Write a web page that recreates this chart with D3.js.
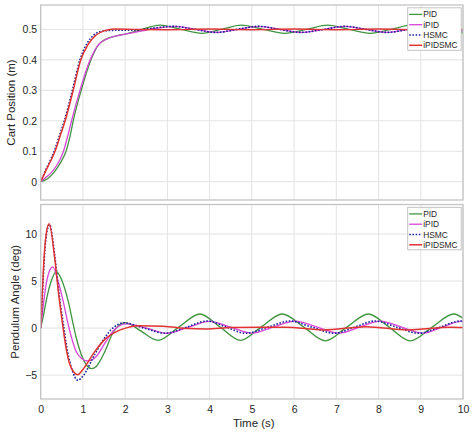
<!DOCTYPE html>
<html>
<head>
<meta charset="utf-8">
<script src="https://cdn.jsdelivr.net/npm/d3@7"></script>
<style>
  html, body { margin: 0; padding: 0; background: #fff; }
  svg { display: block; font-family: "Liberation Sans", Arial, sans-serif; }
  .grid line { stroke: #e3e3e3; stroke-width: 1; }
  .tick text { fill: #262626; }
</style>
</head>
<body>
<div id="chart"></div>
<script>
  // ---- data: [time (s), value] ----
  const timeTicks = [0, 1, 2, 3, 4, 5, 6, 7, 8, 9, 10];
  const cartTicks = [0, 0.1, 0.2, 0.3, 0.4, 0.5];
  const angleTicks = [-5, 0, 5, 10];
  const seriesNames = ["PID", "iPID", "HSMC", "iPIDSMC"];

  const cartPID = [[0,0],[0.1,0.005],[0.2,0.014],[0.3,0.028],[0.4,0.047],[0.5,0.07],[0.6,0.1],[0.7,0.153],[0.77,0.2],[0.96,0.3],[1.19,0.4],[1.37,0.45],[1.55,0.468],[1.8,0.479],[2.05,0.486],[2.3,0.496],[2.83,0.514],[3.32,0.5],[3.82,0.487],[4.28,0.5],[4.75,0.514],[5.27,0.5],[5.78,0.487],[6.3,0.5],[6.8,0.514],[7.3,0.5],[7.8,0.487],[8.3,0.5],[8.78,0.514],[9.3,0.5],[9.8,0.487],[10,0.489]];
  const cartIPID = [[0,0],[0.14,0.016],[0.25,0.03],[0.38,0.054],[0.46,0.074],[0.54,0.1],[0.63,0.145],[0.73,0.2],[0.93,0.3],[1.17,0.4],[1.37,0.45],[1.55,0.467],[1.8,0.479],[2.1,0.487],[2.4,0.495],[2.7,0.503],[3.17,0.51],[3.67,0.5],[4.17,0.49],[4.67,0.5],[5.17,0.51],[5.67,0.5],[6.17,0.49],[6.7,0.5],[7.2,0.51],[7.7,0.5],[8.2,0.49],[8.7,0.5],[9.2,0.51],[9.7,0.5],[10,0.494]];
  const cartHSMC = [[0,0],[0.1,0.033],[0.2,0.062],[0.32,0.1],[0.44,0.15],[0.56,0.2],[0.75,0.3],[0.93,0.4],[1.1,0.455],[1.25,0.48],[1.45,0.494],[1.8,0.497],[2.2,0.497],[2.6,0.503],[3.15,0.51],[3.65,0.5],[4.15,0.49],[4.65,0.5],[5.15,0.51],[5.65,0.5],[6.15,0.49],[6.7,0.5],[7.2,0.51],[7.7,0.5],[8.2,0.49],[8.7,0.5],[9.2,0.51],[9.7,0.5],[10,0.493]];
  const cartIPIDSMC = [[0,0],[0.1,0.03],[0.2,0.058],[0.34,0.1],[0.46,0.15],[0.58,0.2],[0.77,0.3],[0.95,0.4],[1.12,0.45],[1.3,0.48],[1.5,0.495],[1.75,0.501],[2.2,0.5],[3,0.499],[4,0.501],[5,0.499],[6,0.501],[7,0.499],[8,0.501],[9,0.499],[10,0.5]];

  const anglePID = [[0,0],[0.055,1.1],[0.13,2.9],[0.25,5.0],[0.37,6.0],[0.49,5.2],[0.65,2.9],[0.77,0.4],[0.84,-1.0],[0.96,-2.8],[1.08,-3.9],[1.2,-4.3],[1.32,-4.05],[1.52,-2.5],[1.71,-0.5],[1.83,0.2],[1.99,0.57],[2.1,0.45],[2.37,-0.3],[2.78,-1.3],[3.27,0.1],[3.77,1.5],[4.25,0.1],[4.73,-1.3],[5.22,0.1],[5.72,1.5],[6.23,0.1],[6.74,-1.35],[7.25,0.1],[7.76,1.5],[8.25,0.1],[8.75,-1.35],[9.27,0.1],[9.78,1.5],[10,1.05]];
  const angleIPID = [[0,0],[0.055,2.2],[0.13,4.7],[0.21,6.1],[0.29,6.5],[0.41,5.0],[0.53,2.9],[0.65,0.4],[0.73,-1.0],[0.84,-2.5],[0.96,-3.2],[1.12,-3.5],[1.32,-3.0],[1.52,-1.6],[1.75,-0.15],[2.03,0.45],[2.5,0],[3.0,-0.55],[3.5,0.1],[4.0,0.72],[4.5,0.1],[5.0,-0.53],[5.5,0.1],[6.03,0.75],[6.55,0.1],[7.07,-0.53],[7.55,0.1],[8.04,0.75],[8.55,0.1],[9.06,-0.53],[9.5,0.1],[9.95,0.72],[10,0.7]];
  const angleHSMC = [[0,0],[0.03,2.5],[0.08,7.0],[0.13,9.8],[0.21,11.0],[0.33,7.8],[0.43,3.8],[0.55,0],[0.64,-2.6],[0.74,-4.4],[0.88,-5.55],[1.0,-5.1],[1.28,-2.8],[1.52,-1.0],[1.67,-0.15],[1.87,0.46],[1.95,0.57],[2.45,0],[2.95,-0.55],[3.45,0.1],[3.95,0.75],[4.4,0.1],[4.85,-0.55],[5.38,0.1],[5.9,0.75],[6.42,0.1],[6.95,-0.55],[7.43,0.1],[7.92,0.75],[8.43,0.1],[8.95,-0.55],[9.45,0.1],[9.95,0.75],[10,0.74]];
  const angleIPIDSMC = [[0,0],[0.03,2.9],[0.08,7.5],[0.13,10.0],[0.2,11.1],[0.33,7.5],[0.42,3.8],[0.53,0],[0.62,-2.6],[0.72,-4.2],[0.88,-4.95],[1.0,-4.4],[1.28,-2.5],[1.52,-1.2],[1.83,-0.3],[2.05,0.05],[2.3,0.25],[2.9,0.2],[3.5,-0.05],[3.9,-0.1],[4.5,0.05],[5.2,0.1],[5.8,0.1],[6.7,-0.2],[7.7,0.15],[8.7,-0.2],[9.7,0.1],[10,0.05]];

  const cartSeries = [cartPID, cartIPID, cartHSMC, cartIPIDSMC];
  const angleSeries = [anglePID, angleIPID, angleHSMC, angleIPIDSMC];

  const COLORS = ["#3f943f", "#d945d9", "#1c2a9c", "#e23232"];
  const DASH = [null, null, "1.6,1.6", null];
  const WIDTH = [1.3, 1.3, 1.6, 1.5];

  /* ---------------- layout ---------------- */
  const W = 474, H = 435;
  const L = 40.7, R = 463;
  const svg = d3.select("#chart").append("svg").attr("width", W).attr("height", H);

  const x = d3.scaleLinear().domain([0, 10]).range([L, R]);

  function panel(top, bottom, domain, ticks, fmt, data, ylabel, labelX, showX) {
    const y = d3.scaleLinear().domain(domain).range([bottom, top]);
    const g = svg.append("g");

    // grid
    g.append("g").attr("class", "grid")
      .selectAll("line.v").data(timeTicks).join("line")
      .attr("x1", d => x(d)).attr("x2", d => x(d)).attr("y1", top).attr("y2", bottom);
    g.append("g").attr("class", "grid")
      .selectAll("line.h").data(ticks).join("line")
      .attr("x1", L).attr("x2", R).attr("y1", d => y(d)).attr("y2", d => y(d));

    // y ticks
    g.append("g")
      .attr("transform", `translate(${L},0)`)
      .call(d3.axisLeft(y).tickValues(ticks).tickFormat(fmt).tickSize(0).tickPadding(3.5))
      .call(a => a.select(".domain").remove())
      .selectAll("text").style("font-size", "10.5px");

    if (showX) {
      g.append("g")
        .attr("transform", `translate(0,${bottom})`)
        .call(d3.axisBottom(x).tickValues(timeTicks).tickFormat(d3.format("d")).tickSize(0).tickPadding(7))
        .call(a => a.select(".domain").remove())
        .selectAll("text").style("font-size", "10.5px");
    }

    // curves
    const line = d3.line().x(d => x(d[0])).y(d => y(d[1])).curve(d3.curveMonotoneX);
    const clipId = "clip" + Math.round(top);
    svg.append("clipPath").attr("id", clipId)
      .append("rect").attr("x", L).attr("y", top).attr("width", R - L).attr("height", bottom - top);
    g.append("g").attr("clip-path", `url(#${clipId})`)
      .selectAll("path").data(data).join("path")
      .attr("d", line)
      .attr("fill", "none")
      .attr("stroke", (d, i) => COLORS[i])
      .attr("stroke-width", (d, i) => WIDTH[i])
      .attr("stroke-dasharray", (d, i) => DASH[i]);

    // frame
    g.append("rect")
      .attr("x", L).attr("y", top).attr("width", R - L).attr("height", bottom - top)
      .attr("fill", "none").attr("stroke", "#c4c4c4").attr("stroke-width", 1.3);

    // y label
    g.append("text")
      .attr("transform", `translate(${labelX},${(top + bottom) / 2}) rotate(-90)`)
      .attr("text-anchor", "middle")
      .style("font-size", "11.5px").attr("fill", "#262626")
      .text(ylabel);

    // legend
    const lw = 53.5, lh = 42.5;
    const lx = R - 1.8 - lw, ly = top + 2.8;
    const lg = g.append("g").attr("transform", `translate(${lx},${ly})`);
    lg.append("rect").attr("width", lw).attr("height", lh)
      .attr("fill", "#fff").attr("stroke", "#bdbdbd").attr("stroke-width", 0.9);
    const item = lg.selectAll("g.item").data(seriesNames).join("g")
      .attr("transform", (d, i) => `translate(0,${6.6 + i * 10.3})`);
    item.append("line")
      .attr("x1", 1.5).attr("x2", 14.5).attr("y1", 0).attr("y2", 0)
      .attr("stroke", (d, i) => COLORS[i])
      .attr("stroke-width", (d, i) => WIDTH[i])
      .attr("stroke-dasharray", (d, i) => DASH[i]);
    item.append("text")
      .attr("x", 15.5).attr("y", 3)
      .style("font-size", "8.4px").attr("fill", "#262626")
      .text(d => d);
  }

  panel(5, 200, [-0.06, 0.58], cartTicks, d => d === 0 ? "0" : d3.format(".1f")(d),
        cartSeries, "Cart Position (m)", 14.5, false);
  panel(204.5, 399, [-7.54, 13.14], angleTicks, d3.format("d"),
        angleSeries, "Pendulum Angle (deg)", 18.5, true);

  svg.append("text")
    .attr("x", 253.8).attr("y", 427)
    .attr("text-anchor", "middle")
    .style("font-size", "11.5px").attr("fill", "#262626")
    .text("Time (s)");
</script>
</body>
</html>
